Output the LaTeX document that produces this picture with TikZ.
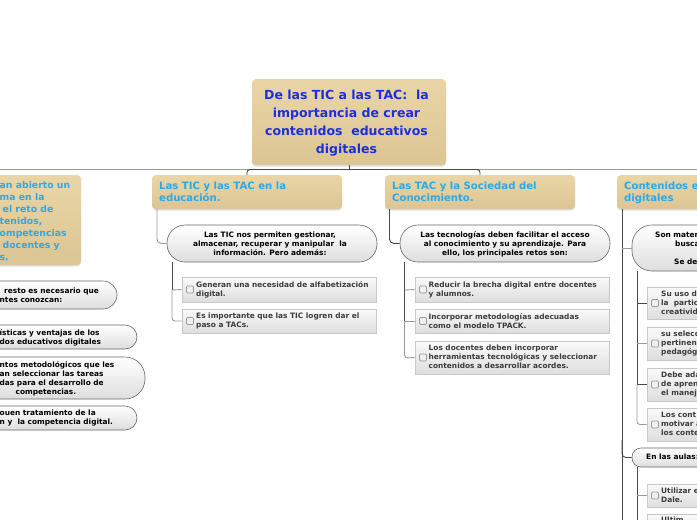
\documentclass[tikz,border=0pt]{standalone}
\usepackage{fontspec}
\setmainfont{DejaVu Sans}
\usetikzlibrary{shadows}
\definecolor{titleblue}{HTML}{1C2FE0}
\definecolor{headblue}{HTML}{2BA9E8}
\definecolor{tanA}{HTML}{E9D5A6}
\definecolor{tanB}{HTML}{DCC594}
\definecolor{lineD}{HTML}{4A4A4A}
\definecolor{lineL}{HTML}{9A9A9A}
\definecolor{txtD}{HTML}{3C3C3C}
\tikzset{
  x=1pt,y=-1pt,
  tanbox/.style={draw=none,top color=tanA,bottom color=tanB,rounded corners=4pt,
     drop shadow={shadow xshift=0pt,shadow yshift=-1.5pt,opacity=.25}},
  pillbox/.style={draw=black!60,line width=.6pt,top color=white,bottom color=black!13},
  itembox/.style={draw=black!22,line width=1pt,top color=black!2,bottom color=black!13},
  chk/.style={draw=black!40,line width=.7pt,fill=black!6,rounded corners=1.2pt},
  trunkD/.style={draw=lineD,line width=.9pt},
  trunkL/.style={draw=lineL,line width=.9pt},
  roottxt/.style={text=titleblue,font=\bfseries\fontsize{12.5}{18}\selectfont,align=center,inner sep=0pt},
  headtxt/.style={text=headblue,font=\bfseries\fontsize{10.1}{12}\selectfont,align=left,inner sep=0pt,anchor=north west},
  pilltxt/.style={text=black,font=\bfseries\fontsize{7.4}{9.1}\selectfont,align=center,inner sep=0pt},
  pillltxt/.style={text=black,font=\bfseries\fontsize{7.4}{9.1}\selectfont,align=left,inner sep=0pt,anchor=north west},
  itemtxt/.style={text=txtD,font=\bfseries\fontsize{7.4}{9}\selectfont,align=left,inner sep=0pt,anchor=north west},
}
\begin{document}
\begin{tikzpicture}
\useasboundingbox (0,0) rectangle (697,520);
\clip (0,0) rectangle (697,520);
% helper coordinates
\coordinate (hL) at (0,169.5);
\coordinate (hR) at (697,169.5);
% main boxes
\node[tanbox,minimum width=194pt,minimum height=86pt,inner sep=0pt] (root) at (349,122) {};
\node[roottxt] (roott) at (346.5,123.5) {De las TIC a las TAC:\ \ la\\importancia de crear\\contenidos\ \ educativos\\digitales};
\node[tanbox,minimum width=190pt,minimum height=90pt,inner sep=0pt] (hleft) at (-14,220) {};
\node[tanbox,minimum width=190pt,minimum height=34pt,inner sep=0pt] (htic) at (247,192) {};
\node[tanbox,minimum width=190pt,minimum height=34pt,inner sep=0pt] (htac) at (480,192) {};
\node[tanbox,minimum width=190pt,minimum height=34pt,inner sep=0pt] (hcon) at (712,192) {};
% top connectors
\draw[trunkL] (hL) -- (hR);
\draw[trunkD] (root.south) -- (root.south |- hL);
\draw[trunkD,rounded corners=3pt] (root.south |- hL) -- (htic.north |- hL) -- (htic.north);
\draw[trunkD,rounded corners=3pt] (root.south |- hL) -- (htac.north |- hL) -- (htac.north);
% head text
\node[headtxt,font=\bfseries\fontsize{9.3}{11.9}\selectfont] (thleft) at (-0.5,181.5) {an abierto un\\ma en la\\\hspace*{3pt}el reto de\\tenidos,\\ompetencias\\\hspace*{3pt}docentes y\\s.};
\node[headtxt] (thtic) at (159,182) {Las TIC y las TAC en la\\educación.};
\node[headtxt] (thtac) at (392,182) {Las TAC y la Sociedad del\\Conocimiento.};
\node[headtxt] (thcon) at (624,182) {Contenidos e\\digitales};
% pills
\node[pillbox,rounded corners=18pt,minimum width=210pt,minimum height=37pt,inner sep=0pt] (ptic) at (272,243.5) {};
\node[pilltxt] (tptic) at (270,244) {Las TIC nos permiten gestionar,\\almacenar, recuperar y manipular\ \ la\\información. Pero además:};
\node[pillbox,rounded corners=18pt,minimum width=210pt,minimum height=37pt,inner sep=0pt] (ptac) at (505,243.5) {};
\node[pilltxt] (tptac) at (505,244) {Las tecnologías deben facilitar el acceso\\al conocimiento y su aprendizaje. Para\\ello, los principales retos son:};
\node[pillbox,rounded corners=20pt,minimum width=210pt,minimum height=46pt,inner sep=0pt] (pcon) at (737,248) {};
\node[pillltxt] (tpcon) at (655,231.5) {Son mater\\\hspace*{20pt}busca\\[9.1pt]\hspace*{19pt}Se de};
\node[pillbox,rounded corners=9pt,minimum width=210pt,minimum height=19pt,inner sep=0pt] (paul) at (737,457.5) {};
\node[pillltxt] (tpaul) at (646,453.5) {En las aulas:};
% left pills
\node[pillbox,rounded corners=14pt,minimum width=210pt,minimum height=28pt,inner sep=0pt] (pa) at (12,295) {};
\node[pillltxt] (tpa) at (-0.5,287.5) {\hspace*{4.5pt}resto es necesario que\\ntes conozcan:};
\node[pillbox,rounded corners=12pt,minimum width=210pt,minimum height=24pt,inner sep=0pt] (pb) at (32,337) {};
\node[pillltxt] (tpb) at (-0.5,329) {ísticas y ventajas de los\\dos educativos digitales};
\node[pillbox,rounded corners=20pt,minimum width=210pt,minimum height=42pt,inner sep=0pt] (pc) at (40,378) {};
\node[pillltxt] (tpc) at (-0.5,361.5) {ntos metodológicos que les\\an seleccionar las tareas\\das para el desarrollo de\\\hspace*{16pt}competencias.};
\node[pillbox,rounded corners=12pt,minimum width=210pt,minimum height=24pt,inner sep=0pt] (pd) at (32,418) {};
\node[pillltxt] (tpd) at (-0.5,410) {ouen tratamiento de la\\n y\ \ la competencia digital.};
% items TIC
\node[itembox,minimum width=194pt,minimum height=25pt,inner sep=0pt] (i1) at (279,289.5) {};
\node[itembox,minimum width=194pt,minimum height=24pt,inner sep=0pt] (i2) at (279,321) {};
% items TAC
\node[itembox,minimum width=194pt,minimum height=25pt,inner sep=0pt] (i3) at (512,289.5) {};
\node[itembox,minimum width=194pt,minimum height=24pt,inner sep=0pt] (i4) at (512,321) {};
\node[itembox,minimum width=194pt,minimum height=33pt,inner sep=0pt] (i5) at (512,357.5) {};
% items Contenidos
\node[itembox,minimum width=194pt,minimum height=32pt,inner sep=0pt] (i6) at (744,303) {};
\node[itembox,minimum width=194pt,minimum height=33pt,inner sep=0pt] (i7) at (744,343.5) {};
\node[itembox,minimum width=194pt,minimum height=33pt,inner sep=0pt] (i8) at (744,384.5) {};
\node[itembox,minimum width=194pt,minimum height=33pt,inner sep=0pt] (i9) at (744,424.5) {};
\node[itembox,minimum width=194pt,minimum height=23pt,inner sep=0pt] (i10) at (744,495.5) {};
\node[itembox,minimum width=194pt,minimum height=23pt,inner sep=0pt] (i11) at (744,526) {};
% checkboxes
\foreach \n/\x in {i1/190,i2/190,i3/423,i4/423,i5/423,i6/655,i7/655,i8/655,i9/655,i10/655,i11/655}{
  \node[chk,minimum width=7pt,minimum height=7pt,inner sep=0pt] (k\n) at (\x,0 |- \n.center) {};
}
% item text
\node[itemtxt] (t1) at (196,281.5) {Generan una necesidad de alfabetización\\digital.};
\node[itemtxt] (t2) at (196,313) {Es importante que las TIC logren dar el\\paso a TACs.};
\node[itemtxt] (t3) at (428.5,281.5) {Reducir la brecha digital entre docentes\\y alumnos.};
\node[itemtxt] (t4) at (428.5,313) {Incorporar metodologías adecuadas\\como el modelo TPACK.};
\node[itemtxt] (t5) at (428.5,344.5) {Los docentes deben incorporar\\herramientas tecnológicas y seleccionar\\contenidos a desarrollar acordes.};
\node[itemtxt] (t6) at (661,290.5) {Su uso d\\la\ \ partic\\creativid};
\node[itemtxt] (t7) at (661,331) {su selecc\\pertinen\\pedagóg};
\node[itemtxt] (t8) at (661,371.5) {Debe ada\\de apren\\el manej};
\node[itemtxt] (t9) at (661,411.5) {Los cont\\motivar a\\los conte};
\node[itemtxt] (t10) at (661,487.5) {Utilizar el\\Dale.};
\node[itemtxt] (t11) at (661,517) {Ultim};
% trunks
\draw[trunkL,rounded corners=4pt] ([xshift=-90pt]htic.south) -- ++(0,34) -- (ptic.west);
\draw[trunkD,rounded corners=4pt] ([xshift=-90.5pt]htac.south) -- ++(0,34) -- (ptac.west);
\draw[trunkD] ([xshift=-90pt]hcon.south) -- (622,520);
\draw[trunkL] (622,248) -- (pcon.west);
\draw[trunkD,rounded corners=4pt] (622,440) -- (622,457.5) -- (paul.west);
% TIC sub
\draw[trunkD] (172,262) -- (172,290);
\draw[trunkL] (172,290) -- (i1.west);
\draw[trunkL,rounded corners=3pt] (172,290) -- (172,321) -- (i2.west);
% TAC sub
\draw[trunkD] (404.5,262) -- (404.5,290);
\draw[trunkL] (404.5,290) -- (i3.west);
\draw[trunkD] (404.5,290) -- (404.5,321);
\draw[trunkL] (404.5,321) -- (i4.west);
\draw[trunkL,rounded corners=3pt] (404.5,321) -- (404.5,358) -- (i5.west);
% Con sub
\draw[trunkD] (637,271) -- (637,384) ;
\draw[trunkD] (637,303) -- (i6.west);
\draw[trunkL] (637,343.5) -- (i7.west);
\draw[trunkD] (637,384.5) -- (i8.west);
\draw[trunkL,rounded corners=3pt] (637,384.5) -- (637,424.5) -- (i9.west);
\draw[trunkD] (637,467) -- (637,520);
\draw[trunkL] (637,495.5) -- (i10.west);
\end{tikzpicture}
\end{document}
